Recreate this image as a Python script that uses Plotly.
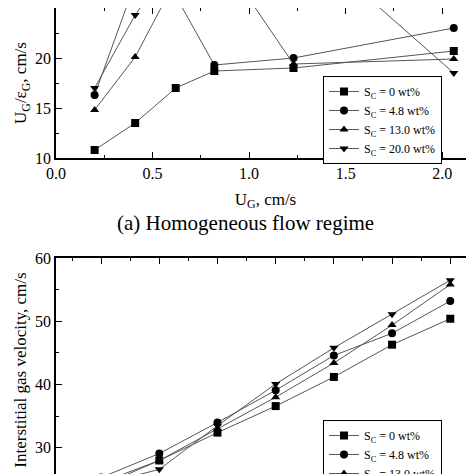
import plotly.graph_objects as go

labels = ["S<sub>C</sub> = 0 wt%", "S<sub>C</sub> = 4.8 wt%", "S<sub>C</sub> = 13.0 wt%", "S<sub>C</sub> = 20.0 wt%"]
symbols = ["square", "circle", "triangle-up", "triangle-down"]

# (a) Homogeneous regime
ug_a = [0.2, 0.41, 0.62, 0.82, 1.23, 2.06]
a_s0 = [10.8, 13.5, 17.0, 18.7, 19.0, 20.7]
a_s48 = [16.3, 27.5, 26.2, 19.3, 20.0, 23.0]
a_s130 = [14.8, 20.1, 27.8, 31.0, 19.4, 19.9]
a_s200 = [17.0, 24.3, 30.0, 33.0, 32.6, 18.5]

# (b) second panel
ug_b = [2, 4, 6, 8, 10, 12, 14]
b_s0 = [24.0, 28.0, 32.4, 36.6, 41.2, 46.3, 50.4]
b_s48 = [25.3, 29.1, 34.0, 39.1, 44.6, 48.1, 53.2]
b_s130 = [24.5, 28.0, 33.0, 38.0, 43.4, 49.4, 55.8]
b_s200 = [24.2, 26.6, 33.5, 40.1, 45.8, 51.1, 56.5]

F = "Liberation Serif, Times New Roman, serif"
fig = go.Figure()
for lab, sym, ys in zip(labels, symbols, [a_s0, a_s48, a_s130, a_s200]):
    fig.add_trace(go.Scatter(x=ug_a, y=ys, mode="lines+markers", name=lab, xaxis="x", yaxis="y",
                             line=dict(color="#555", width=1), marker=dict(symbol=sym, size=8, color="black"),
                             legend="legend"))
for lab, sym, ys in zip(labels, symbols, [b_s0, b_s48, b_s130, b_s200]):
    fig.add_trace(go.Scatter(x=ug_b, y=ys, mode="lines+markers", name=lab, xaxis="x2", yaxis="y2",
                             line=dict(color="#555", width=1), marker=dict(symbol=sym, size=8, color="black"),
                             legend="legend2"))

ax = dict(showline=True, linecolor="black", linewidth=1.5, mirror="ticks", ticks="inside",
          ticklen=6, tickcolor="black", showgrid=False, zeroline=False, automargin=False,
          tickfont=dict(family=F, size=16, color="black"))
xd = [48/474, 467/474]
leg = dict(bgcolor="white", bordercolor="black", borderwidth=1, font=dict(family=F, size=12, color="black"),
           xanchor="left", yanchor="top", tracegroupgap=0, itemwidth=30)
fig.update_layout(
    width=474, height=474, margin=dict(l=0, r=0, t=0, b=0, autoexpand=False),
    font=dict(family=F),
    plot_bgcolor="white", paper_bgcolor="white",
    xaxis=dict(**ax, domain=xd, range=[0, 2.17], dtick=0.5, tickformat=".1f",
               minor=dict(dtick=0.25, ticks="inside", ticklen=3, tickcolor="black"),
               title=dict(text="U<sub>G</sub>, cm/s", font=dict(family=F, size=17, color="black"), standoff=12)),
    yaxis=dict(**ax, domain=[1-150/474, 1], range=[10, 25], dtick=5,
               minor=dict(dtick=2.5, ticks="inside", ticklen=3, tickcolor="black"),
               title=dict(text="U<sub>G</sub>/ε<sub>G</sub>, cm/s", font=dict(family=F, size=17, color="black"), standoff=4)),
    xaxis2=dict(**ax, domain=xd, anchor="y2", range=[0.45, 14.85], dtick=2, showticklabels=False,
                minor=dict(dtick=1, ticks="inside", ticklen=3, tickcolor="black")),
    yaxis2=dict(**ax, domain=[0, 1-250/474], anchor="x2", range=[24.6, 60], dtick=10,
                minor=dict(dtick=5, ticks="inside", ticklen=3, tickcolor="black"),
                title=dict(text="Interstitial gas velocity, cm/s", font=dict(family=F, size=17, color="black"), standoff=4)),
    legend=dict(**leg, x=315/474, y=1-68/474),
    legend2=dict(**leg, x=315/474, y=1-412/474),
    annotations=[dict(text="(a) Homogeneous flow regime", x=0.5, y=1-215/474, xref="paper", yref="paper",
                      showarrow=False, font=dict(family=F, size=21, color="black"))],
    shapes=[dict(type="rect", xref="paper", yref="paper", x0=320/474, x1=432/474, y0=1-141/474, y1=1-73/474,
                 fillcolor="black", line=dict(width=0), layer="above"),
            dict(type="rect", xref="paper", yref="paper", x0=320/474, x1=432/474, y0=0, y1=1-417/474,
                 fillcolor="black", line=dict(width=0), layer="above")],
)
fig.write_html("out.html")
